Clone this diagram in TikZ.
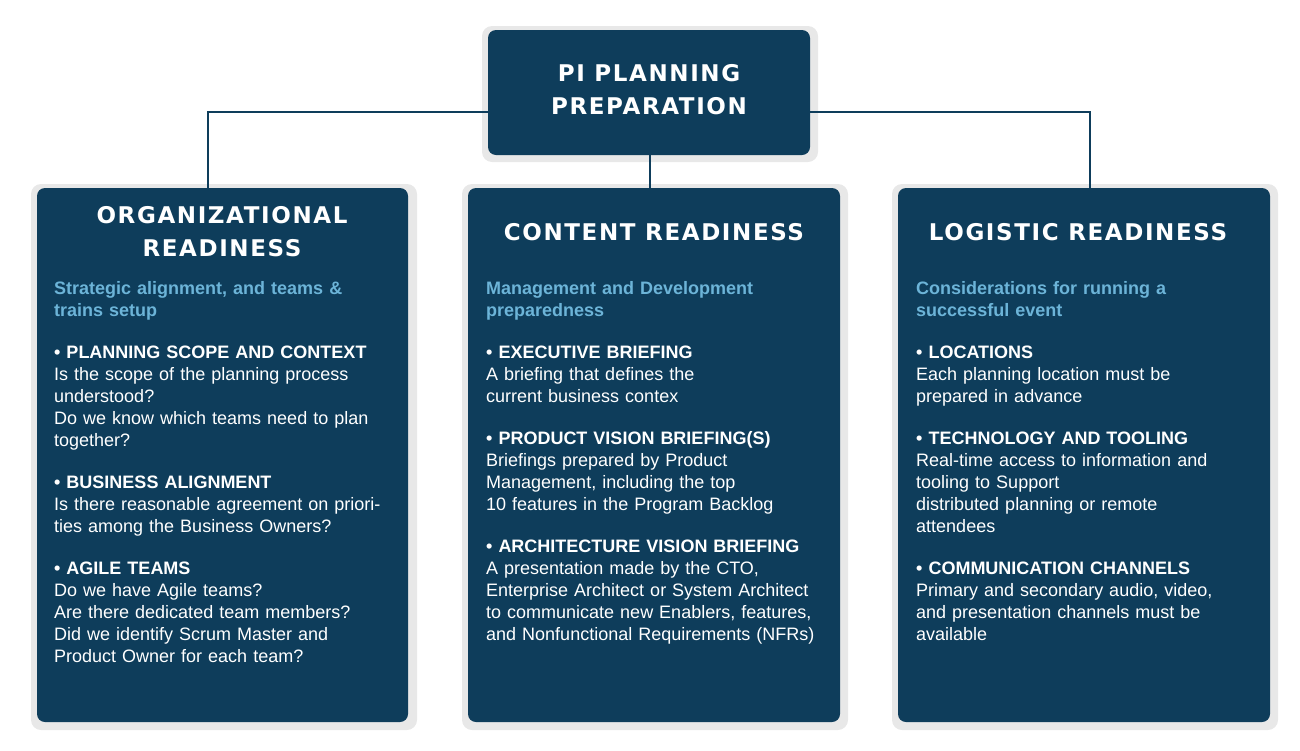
\documentclass[tikz,border=0pt]{standalone}
\usepackage{fontspec}
\setmainfont{Liberation Sans}
\newfontfamily\titlefont[LetterSpace=7]{DejaVu Sans}
\usetikzlibrary{positioning}
\definecolor{boxblue}{HTML}{0E3D5B}
\definecolor{subblue}{HTML}{6CB4D8}

\tikzset{
  panel/.style={fill=boxblue, rounded corners=8pt, draw=none},
  shade/.style={fill=black!15, rounded corners=10pt, opacity=0.6},
  heading/.style={text=white, font=\titlefont\bfseries\fontsize{23}{33}\selectfont, align=center},
  body/.style={text=white, anchor=north west, text width=350pt, align=left,
    font=\fontsize{18}{22}\selectfont, inner sep=0pt},
  link/.style={draw=boxblue, line width=2pt}
}
\newcommand{\sub}[1]{\textcolor{subblue}{\bfseries #1}}

\begin{document}
\begin{tikzpicture}[x=1pt,y=-1pt]
\useasboundingbox (0,0) rectangle (1300,750);

% shadows
\fill[shade] (482,26) rectangle (818,162);
\foreach \a in {37,468,898} \fill[shade] (\a-6,184) rectangle (\a+380,730);

% connectors
\coordinate (lk) at (208,188);
\coordinate (rk) at (1090,188);
\coordinate (ltop) at (208,112);
\coordinate (rtop) at (1090,112);
\draw[link] (488,112) -- (ltop) -- (lk);
\draw[link] (810,112) -- (rtop) -- (rk);
\draw[link] (650,155) -- (650,188);

% boxes
\fill[panel] (488,30) rectangle (810,155);
\fill[panel] (37,188) rectangle (408,722);
\fill[panel] (468,188) rectangle (840,722);
\fill[panel] (898,188) rectangle (1270,722);

\node[heading] (top) at (649,90) {PI PLANNING\\PREPARATION};
\node[heading] (org) at (222,232) {ORGANIZATIONAL\\READINESS};
\node[heading] (con) at (654,232) {CONTENT READINESS};
\node[heading] (log) at (1078,232) {LOGISTIC READINESS};

\node[body] (orgtxt) at (54,281) {\sub{Strategic alignment, and teams \&\\trains setup}\\[20pt]
\textbf{• PLANNING SCOPE AND CONTEXT}\\
Is the scope of the planning process\\understood?\\
Do we know which teams need to plan\\together?\\[20pt]
\textbf{• BUSINESS ALIGNMENT}\\
Is there reasonable agreement on priori-\\ties among the Business Owners?\\[20pt]
\textbf{• AGILE TEAMS}\\
Do we have Agile teams?\\
Are there dedicated team members?\\
Did we identify Scrum Master and\\Product Owner for each team?};

\node[body] (contxt) at (486,281) {\sub{Management and Development\\preparedness}\\[20pt]
\textbf{• EXECUTIVE BRIEFING}\\
A briefing that defines the\\current business contex\\[20pt]
\textbf{• PRODUCT VISION BRIEFING(S)}\\
Briefings prepared by Product\\Management, including the top\\10 features in the Program Backlog\\[20pt]
\textbf{• ARCHITECTURE VISION BRIEFING}\\
A presentation made by the CTO,\\Enterprise Architect or System Architect\\to communicate new Enablers, features,\\and Nonfunctional Requirements (NFRs)};

\node[body] (logtxt) at (916,281) {\sub{Considerations for running a\\successful event}\\[20pt]
\textbf{• LOCATIONS}\\
Each planning location must be\\prepared in advance\\[20pt]
\textbf{• TECHNOLOGY AND TOOLING}\\
Real-time access to information and\\tooling to Support\\distributed planning or remote\\attendees\\[20pt]
\textbf{• COMMUNICATION CHANNELS}\\
Primary and secondary audio, video,\\and presentation channels must be\\available};
\end{tikzpicture}
\end{document}
